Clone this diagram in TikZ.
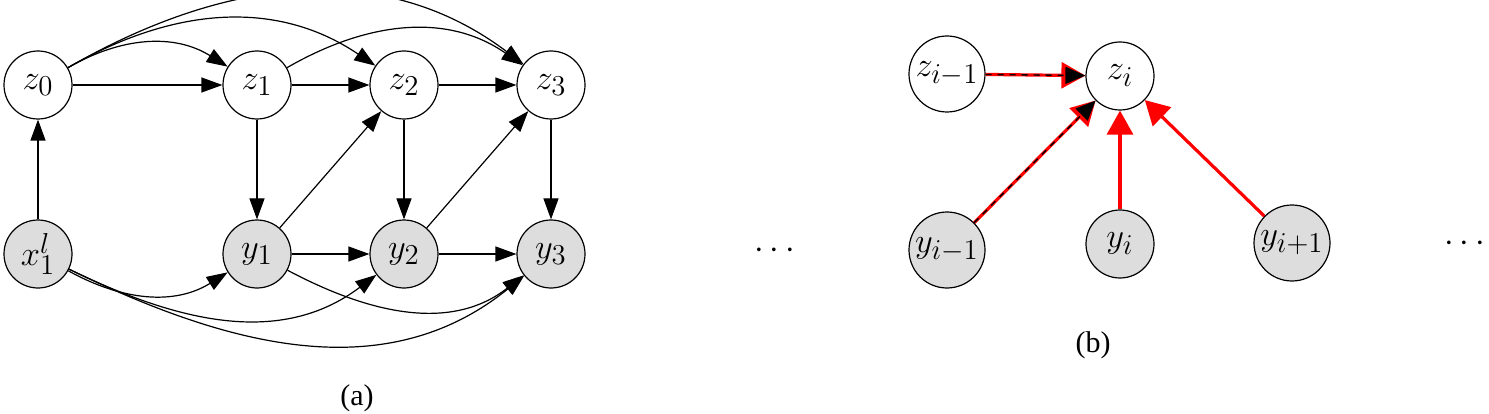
\documentclass[tikz,border=0pt]{standalone}
\usepackage{fontspec}
\newfontfamily\capfont{Liberation Serif}
\usetikzlibrary{arrows.meta}
\DeclareMathSizes{16.5}{16.5}{13.5}{10}
\definecolor{nodegray}{RGB}{221,221,221}
\begin{document}
\begin{tikzpicture}[x=0.5pt,y=0.5pt,
  nd/.style={circle, draw, line width=0.6pt, minimum size=34pt, inner sep=0pt, font=\fontsize{16.5}{19}\selectfont},
  obs/.style={nd, fill=nodegray},
  wide/.style={minimum size=38pt},
  arr/.style={-{Triangle[length=10.5pt,width=7.5pt]}, line width=0.6pt},
  redarr/.style={-{Triangle[length=12pt,width=13pt]}, draw=red, fill=red, line width=1.6pt},
  blkdash/.style={-{Triangle[length=10pt,width=8.5pt]}, draw=black, line width=0.7pt, dash pattern=on 3pt off 3pt},
  captext/.style={font=\capfont\fontsize{15}{18}\selectfont},
  dotsnode/.style={font=\fontsize{16.5}{19}\selectfont}]
\useasboundingbox (0,0) rectangle (1489,413);
% (a)
\node[nd] (z0) at (38,328) {$z_0$};
\node[nd] (z1) at (257,328) {$z_1$};
\node[nd] (z2) at (404,328) {$z_2$};
\node[nd] (z3) at (551,328) {$z_3$};
\node[obs] (x1) at (38,159) {$x_1^l$};
\node[obs] (y1) at (257,159) {$y_1$};
\node[obs] (y2) at (404,159) {$y_2$};
\node[obs] (y3) at (551,159) {$y_3$};
\node[captext] (capa) at (357,15) {(a)};
\node[dotsnode] (dotsa) at (774.5,162) {$\cdots$};
\draw[arr] (z0) -- (z1);
\draw[arr] (z1) -- (z2);
\draw[arr] (z2) -- (z3);
\draw[arr] (x1) -- (z0);
\draw[arr] (z1) -- (y1);
\draw[arr] (z2) -- (y2);
\draw[arr] (z3) -- (y3);
\draw[arr] (y1) -- (y2);
\draw[arr] (y2) -- (y3);
\draw[arr] (y1) -- (z2);
\draw[arr] (y2) -- (z3);
\draw[arr] (z0) to[out=30,in=148] (z1);
\draw[arr] (z0) to[out=30,in=146] (z2);
\draw[arr] (z0) to[out=30,in=143] (z3);
\draw[arr] (z1) to[out=30,in=145] (z3);
\draw[arr] (x1) to[out=-29,in=-148] (y1);
\draw[arr] (x1) to[out=-26,in=-143] (y2);
\draw[arr] (x1) to[out=-26,in=-141] (y3);
\draw[arr] (y1) to[out=-28,in=-142] (y3);
% (b)
\node[nd,wide] (zim1) at (947,339) {$z_{i-1}$};
\node[nd] (zi) at (1120,337) {$z_i$};
\node[obs,wide] (yim1) at (947,163) {$y_{i-1}$};
\node[obs] (yi) at (1120,169) {$y_i$};
\node[obs,wide] (yip1) at (1292,170) {$y_{i+1}$};
\node[captext] (capb) at (1093,68) {(b)};
\node[dotsnode] (dotsb) at (1464.5,169) {$\cdots$};
\draw[redarr] (zim1) -- (zi);
\draw[blkdash] (zim1) -- (zi);
\draw[redarr] (yim1) -- (zi);
\draw[blkdash] (yim1) -- (zi);
\draw[redarr] (yi) -- (zi);
\draw[redarr] (yip1) -- (zi);
\end{tikzpicture}
\end{document}
